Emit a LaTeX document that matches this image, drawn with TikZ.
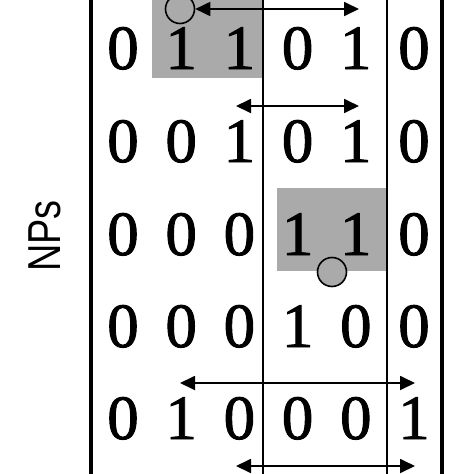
\documentclass[tikz,border=0pt]{standalone}
\usepackage{fontspec}
\setmainfont{Liberation Serif}
\newfontfamily\labelfont{Liberation Sans}
\newfontfamily\digitfont[FakeBold=1.5]{Liberation Serif}
\usetikzlibrary{arrows.meta}
\definecolor{boxgray}{RGB}{170,170,170}
\tikzset{
  digit/.style={anchor=base,inner sep=0pt,font=\digitfont\fontsize{63}{63}\selectfont},
  outerline/.style={line width=3.4pt},
  innerline/.style={line width=1.6pt},
  marker/.style={circle,draw,line width=1.6pt,fill=boxgray,minimum size=29pt,inner sep=0pt},
  dblarrow/.style={line width=1.8pt,{Triangle[length=15pt,width=14pt]}-{Triangle[length=15pt,width=14pt]}}
}
\begin{document}
\begin{tikzpicture}[x=1pt,y=-1pt]
\useasboundingbox (0,0) rectangle (474,474);
% shaded boxes
\fill[boxgray] (152,-2) rectangle (262,78);
\fill[boxgray] (277,188) rectangle (386,271);
% vertical lines
\coordinate (L1t) at (91,-5); \coordinate (L1b) at (91,480);
\coordinate (L2t) at (442,-5); \coordinate (L2b) at (442,480);
\coordinate (M1t) at (263,-5); \coordinate (M1b) at (263,480);
\coordinate (M2t) at (387,-5); \coordinate (M2b) at (387,480);
\draw[outerline] (L1t) -- (L1b);
\draw[outerline] (L2t) -- (L2b);
\draw[innerline] (M1t) -- (M1b);
\draw[innerline] (M2t) -- (M2b);
% digits
\foreach \r/\y/\vals in {1/69/{0,1,1,0,1,0},2/162/{0,0,1,0,1,0},3/255/{0,0,0,1,1,0},4/347/{0,0,0,1,0,0},5/439/{0,1,0,0,0,1}}{
  \foreach \v [count=\c] in \vals {
    \pgfmathsetmacro{\xx}{123+58.2*(\c-1)}
    \node[digit] (d\r\c) at (\xx,\y) {\v};
  }
}
% circles
\node[marker] (c1) at (180,9) {};
\node[marker] (c2) at (332,272) {};
% arrows
\coordinate (a1r) at (359,9);
\coordinate (a2l) at (236,106); \coordinate (a2r) at (359,106);
\coordinate (a3l) at (180,383); \coordinate (a3r) at (415,383);
\coordinate (a4l) at (236,466); \coordinate (a4r) at (415,466);
\draw[dblarrow] (c1.east) -- (a1r);
\draw[dblarrow] (a2l) -- (a2r);
\draw[dblarrow] (a3l) -- (a3r);
\draw[dblarrow] (a4l) -- (a4r);
% label
\node[rotate=90,anchor=base,inner sep=0pt,font=\labelfont\fontsize{44}{44}\selectfont] (nps) at (60,236) {\scalebox{0.86}[1.05]{NPs}};
\end{tikzpicture}
\end{document}
